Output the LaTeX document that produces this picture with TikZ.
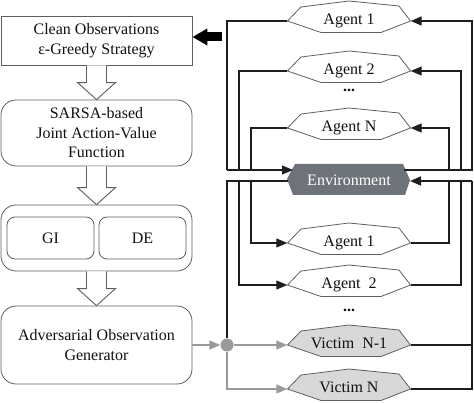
\documentclass[tikz,border=0pt]{standalone}
\usepackage{fontspec}
\setmainfont{Liberation Serif}
\usetikzlibrary{arrows.meta,calc}
\definecolor{txt}{HTML}{111111}
\definecolor{bord}{HTML}{5E5E5E}
\definecolor{envfill}{HTML}{6E7279}
\definecolor{vicfill}{HTML}{D8D8D8}
\definecolor{graylink}{HTML}{9A9A9A}
\definecolor{linec}{HTML}{1E1E1E}
\newcommand\agentpoly[2]{\draw[#2] ($(#1)+(-61.5,0)$) -- ($(#1)+(-48,-14)$) -- ($(#1)+(0,-20)$) -- ($(#1)+(50,-15)$) -- ($(#1)+(61.5,0)$) -- ($(#1)+(32,11.5)$) -- ($(#1)+(-28,11.5)$) -- cycle;}
\newcommand\hollowarrow[2]{\draw[hollow] ($(#1)+(-10,0)$) -- ($(#2)+(-10,-17)$) -- ($(#2)+(-19,-17)$) -- (#2) -- ($(#2)+(19,-17)$) -- ($(#2)+(10,-17)$) -- ($(#1)+(10,0)$);}
\begin{document}
\begin{tikzpicture}[x=1pt,y=-1pt,
  every node/.style={font=\fontsize{16}{19.5}\selectfont, text=txt},
  box/.style={draw=bord, line width=0.8pt, fill=white, minimum width=191pt, inner sep=0pt, align=center},
  rbox/.style={box, rounded corners=15pt},
  ibox/.style={draw=bord, line width=0.8pt, rounded corners=8pt, minimum width=87pt, minimum height=42pt, inner sep=0pt},
  agentnode/.style={minimum width=123pt, minimum height=20pt, inner sep=0pt},
  agentshape/.style={draw=bord, line width=0.8pt, fill=white},
  victimshape/.style={draw=bord, line width=0.8pt, fill=vicfill},
  hollow/.style={draw=bord, line width=0.9pt, fill=white, line join=miter},
  conn/.style={draw=linec, line width=1.1pt},
  connthick/.style={draw=linec, line width=1.7pt},
  gconn/.style={draw=graylink, line width=1.1pt},
  arr/.style={-{Triangle[length=11pt,width=9pt]}},
  dots/.style={font=\fontsize{16}{19}\selectfont\bfseries}
]
\useasboundingbox (0,0) rectangle (474,403);

% left column
\node[box, minimum height=49pt] (clean) at (96.5,40.5) {Clean Observations\\ε-Greedy Strategy};
\node[rbox, minimum height=66pt] (sarsa) at (96.5,133) {SARSA-based\\Joint Action-Value\\Function};
\node[rbox, minimum height=66pt] (gide) at (96.5,238) {};
\node[ibox] (gi) at (50.5,238) {GI};
\node[ibox] (de) at (142.5,238) {DE};
\node[rbox, minimum height=78pt] (adv) at (96.5,345) {Adversarial Observation\\Generator};

\hollowarrow{clean.south}{sarsa.north}
\hollowarrow{sarsa.south}{gide.north}
\hollowarrow{gide.south}{adv.north}

% right column shapes
\coordinate (a1p) at (349,21);
\coordinate (a2p) at (349,71);
\coordinate (aNp) at (349,128);
\coordinate (b1p) at (349,243);
\coordinate (b2p) at (349,285);
\coordinate (v1p) at (349,345);
\coordinate (v2p) at (349,389);
\agentpoly{a1p}{agentshape}
\agentpoly{a2p}{agentshape}
\agentpoly{aNp}{agentshape}
\agentpoly{b1p}{agentshape}
\agentpoly{b2p}{agentshape}
\agentpoly{v1p}{victimshape}
\agentpoly{v2p}{victimshape}
\node[agentnode] (a1) at (a1p) {\raisebox{3pt}{Agent 1}};
\node[agentnode] (a2) at (a2p) {\raisebox{3pt}{Agent 2}};
\node[agentnode] (aN) at (aNp) {\raisebox{3pt}{Agent N}};
\node[agentnode] (b1) at (b1p) {\raisebox{3pt}{Agent 1}};
\node[agentnode] (b2) at (b2p) {\raisebox{3pt}{Agent\hspace{0.5em}2}};
\node[agentnode] (v1) at (v1p) {\raisebox{3pt}{Victim\hspace{0.5em}N-1}};
\node[agentnode] (v2) at (v2p) {\raisebox{3pt}{Victim N}};
\node[dots] (d1) at (349,90) {...};
\node[dots] (d2) at (349,310) {...};

% environment
\coordinate (ep) at (349,180);
\fill[envfill] ($(ep)+(-54,-16)$) -- ($(ep)+(54,-16)$) -- ($(ep)+(61,0)$) -- ($(ep)+(56,15)$) -- ($(ep)+(-56,15)$) -- ($(ep)+(-62,-1)$) -- cycle;
\node[minimum width=123pt, minimum height=31pt, inner sep=0pt, text=white] (env) at (ep) {Environment};

% rails
\coordinate (L1) at (227,0);
\coordinate (L2) at (239,0);
\coordinate (L3) at (251,0);
\coordinate (R1) at (472,0);
\coordinate (R2) at (461,0);
\coordinate (R3) at (449,0);
\coordinate (eInL) at (293,170);
\coordinate (eOutL) at (288,181);
\coordinate (eOutR) at (404,170);
\coordinate (eInR) at (410,181);

% agents -> environment (left)
\draw[conn] (a1.west) -| (L1 |- eInL);
\draw[conn] (a2.west) -| (L2 |- eInL);
\draw[conn] (aN.west) -| (L3 |- eInL);
\draw[conn,arr] (L1 |- eInL) -- (eInL);

% environment -> top agents (right)
\draw[connthick,arr] (eOutR) -- (eOutR -| R1) |- (a1.east);
\draw[conn,arr] (eOutR -| R2) |- (a2.east);
\draw[conn,arr] (eOutR -| R3) |- (aN.east);

% environment -> lower agents (left)
\node[circle, fill=graylink, minimum size=13pt, inner sep=0pt] (circ) at (227,345) {};
\draw[conn] (eOutL) -- (eOutL -| L1) -- (circ);
\draw[conn,arr] (eOutL -| L2) |- (b2.west);
\draw[conn,arr] (eOutL -| L3) |- (b1.west);

% lower agents -> environment (right)
\draw[connthick,arr] (eInR -| R1) -- (eInR);
\draw[conn] (b1.east) -| (eInR -| R3);
\draw[conn] (b2.east) -| (eInR -| R2);
\draw[connthick] (v1.east) -| (eInR -| R1);
\draw[connthick] (v2.east) -| (eInR -| R1);

% adversarial observations
\draw[gconn,arr] (adv.east) -- (circ);
\draw[gconn,arr] (circ) -- (v1.west);
\draw[gconn,arr] (circ) |- (v2.west);

% big arrow to clean observations
\coordinate (bigtail) at (222,37);
\draw[draw=black, line width=9pt, -{Triangle[length=15pt,width=16pt]}] (bigtail) -- (clean.east |- bigtail);
\end{tikzpicture}
\end{document}
